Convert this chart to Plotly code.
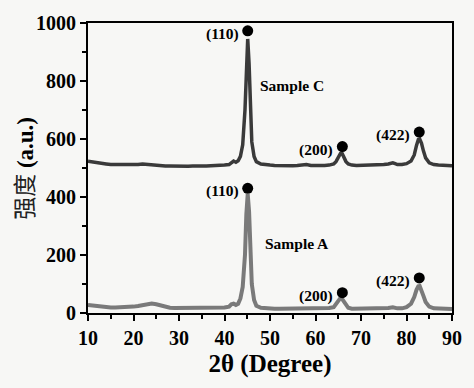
import plotly.graph_objects as go

# ---- data ----
two_theta_c = [10, 11, 12, 13, 14, 15, 16, 17, 18, 19, 20, 21, 22, 23, 24, 25, 26, 27, 28, 29,
               30, 31, 32, 33, 34, 35, 36, 37, 38, 39, 40, 41, 41.5, 42, 42.5, 43, 43.5, 44,
               44.5, 44.8, 45.1, 45.4, 45.7, 46, 46.5, 47, 48, 49, 50, 51, 52, 53, 54, 55, 56,
               57, 58, 59, 60, 61, 62, 63, 64, 64.5, 65, 65.5, 65.8, 66.2, 66.7, 67.2, 68, 69,
               70, 71, 72, 73, 74, 75, 76, 77, 77.5, 78, 79, 80, 81, 81.7, 82.2, 82.6, 82.9,
               83.3, 83.7, 84.2, 85, 86, 87, 88, 89, 90]
intensity_c = [523, 520, 518, 516, 514, 512, 512, 511, 510, 510, 511, 512, 514, 512, 510, 508,
               507, 507, 507, 506, 506, 506, 506, 507, 506, 507, 507, 508, 508, 509, 510, 512,
               518, 524, 520, 525, 540, 580, 700, 850, 945, 860, 700, 590, 540, 522, 514, 511,
               510, 509, 508, 508, 508, 508, 509, 510, 512, 509, 508, 508, 509, 510, 514, 522,
               538, 550, 552, 540, 522, 514, 510, 509, 509, 510, 510, 510, 511, 512, 514, 518,
               515, 512, 512, 515, 524, 545, 578, 598, 600, 585, 560, 535, 518, 512, 510, 509,
               508, 508]

two_theta_a = [10, 11, 12, 13, 14, 15, 16, 17, 18, 19, 20, 21, 22, 23, 24, 25, 26, 27, 28, 29,
               30, 31, 32, 33, 34, 35, 36, 37, 38, 39, 40, 41, 41.5, 42, 42.5, 43, 43.5, 44,
               44.5, 44.8, 45.1, 45.4, 45.7, 46, 46.5, 47, 48, 49, 50, 51, 52, 53, 54, 55, 56,
               57, 58, 59, 60, 61, 62, 63, 64, 64.5, 65, 65.5, 65.8, 66.2, 66.7, 67.2, 68, 69,
               70, 71, 72, 73, 74, 75, 76, 77, 77.5, 78, 79, 80, 81, 81.7, 82.2, 82.6, 82.9,
               83.3, 83.7, 84.2, 85, 86, 87, 88, 89, 90]
intensity_a = [28, 26, 22, 20, 19, 19, 19, 19, 20, 21, 22, 24, 27, 31, 33, 30, 25, 20, 18, 17,
               17, 17, 16, 16, 16, 16, 16, 16, 17, 18, 19, 22, 30, 32, 28, 32, 50, 90, 200, 340,
               410, 350, 210, 100, 45, 25, 18, 16, 15, 15, 15, 15, 15, 15, 16, 16, 17, 16, 15,
               15, 16, 17, 20, 30, 45, 52, 50, 40, 25, 18, 15, 15, 15, 15, 15, 15, 16, 16, 17,
               20, 18, 16, 16, 20, 32, 55, 80, 92, 93, 80, 60, 38, 22, 16, 15, 15, 14, 14]

peak_labels = ["(110)", "(200)", "(422)"]
peak_x_c = [45.1, 65.9, 82.8]
peak_y_c = [973, 574, 624]
peak_x_a = [45.1, 65.9, 82.8]
peak_y_a = [430, 70, 121]

sample_names = ["Sample C", "Sample A"]
sample_x = [54.8, 55.9]
sample_y = [785, 238]

x_ticks = [10, 20, 30, 40, 50, 60, 70, 80, 90]
y_ticks = [0, 200, 400, 600, 800, 1000]

SERIF = "Liberation Serif, Times New Roman, serif"

fig = go.Figure()
fig.add_trace(go.Scatter(x=two_theta_a, y=intensity_a, mode="lines",
                         line=dict(color="#7a7a7a", width=4), showlegend=False))
fig.add_trace(go.Scatter(x=two_theta_c, y=intensity_c, mode="lines",
                         line=dict(color="#3a3a3a", width=3.5), showlegend=False))
fig.add_trace(go.Scatter(x=peak_x_c + peak_x_a, y=peak_y_c + peak_y_a, mode="markers",
                         marker=dict(color="black", size=11), showlegend=False))

for xs, ys in ((peak_x_c, peak_y_c), (peak_x_a, peak_y_a)):
    for lab, px, py in zip(peak_labels, xs, ys):
        fig.add_annotation(x=px, y=py, text="<b>" + lab + "</b>", showarrow=False,
                           xanchor="right", xshift=-7, yshift=-3,
                           font=dict(family=SERIF, size=15.5, color="black"))

for name, sx, sy in zip(sample_names, sample_x, sample_y):
    fig.add_annotation(x=sx, y=sy, text="<b>" + name + "</b>", showarrow=False,
                       font=dict(family=SERIF, size=15.5, color="black"))

fig.add_annotation(xref="paper", yref="paper", x=-0.179, y=0.5, textangle=-90,
                   xanchor="center", yanchor="middle", showarrow=False,
                   text='<span style="font-family:Noto Sans CJK SC;color:#222222">强度</span> <b>(a.u.)</b>',
                   font=dict(family=SERIF, size=23, color="black"))

fig.update_xaxes(range=[10, 90], tickvals=x_ticks, ticks="outside", ticklen=6, tickwidth=2,
                 tickcolor="black", showline=True, linecolor="black", linewidth=2,
                 mirror=True, showgrid=False, zeroline=False,
                 minor=dict(ticks="outside", ticklen=4, tickwidth=1.5, tickcolor="black",
                            dtick=5, showgrid=False),
                 tickfont=dict(family=SERIF, size=20, color="black", weight="bold"),
                 title=dict(text="<b>2θ (Degree)</b>", standoff=6,
                            font=dict(family=SERIF, size=25, color="black")))
fig.update_yaxes(range=[0, 1000], tickvals=y_ticks, ticks="outside", ticklen=6, tickwidth=2,
                 tickcolor="black", showline=True, linecolor="black", linewidth=2,
                 mirror=True, showgrid=False, zeroline=False,
                 minor=dict(ticks="outside", ticklen=4, tickwidth=1.5, tickcolor="black",
                            dtick=100, showgrid=False),
                 tickfont=dict(family=SERIF, size=20, color="black", weight="bold"))

fig.update_layout(width=474, height=388, margin=dict(l=88, r=17, t=15, b=75),
                  paper_bgcolor="#f7f7f5", plot_bgcolor="#f7f7f5")

fig.write_html("out.html", config={"displayModeBar": False},
               post_script="document.body.style.margin='0';")
